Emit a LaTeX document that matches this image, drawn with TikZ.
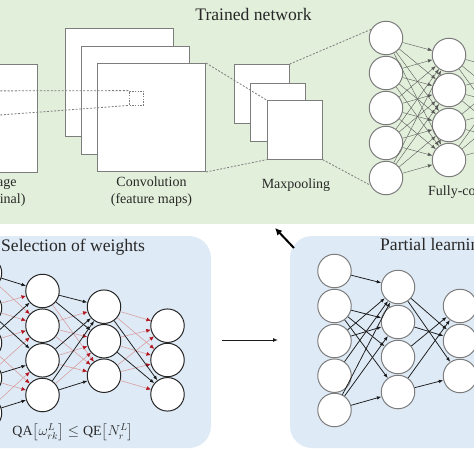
\documentclass[tikz,border=0pt]{standalone}
\usepackage{amsmath,amssymb}
\usepackage{fontspec}
\setmainfont{Liberation Serif}
\usetikzlibrary{arrows.meta}

\definecolor{trainedbg}{RGB}{226,239,218}
\definecolor{learnbg}{RGB}{222,234,246}
\definecolor{mapgray}{RGB}{125,125,125}
\definecolor{inkgray}{RGB}{40,40,40}
\definecolor{weakred}{RGB}{216,150,150}
\definecolor{tipred}{RGB}{180,20,30}

\begin{document}
\begin{tikzpicture}[x=1pt,y=-1pt,
    neuron/.style={circle,draw=mapgray,fill=white,line width=1pt,minimum size=33.5pt,inner sep=0pt},
    darkneuron/.style={neuron,draw=black!85},
    fmap/.style={draw=mapgray,fill=white,line width=1pt,inner sep=0pt,minimum width=108pt,minimum height=108pt},
    pmap/.style={fmap,minimum width=55pt,minimum height=58.5pt},
    guideline/.style={mapgray,line width=0.8pt,dash pattern=on 2pt off 1.6pt},
    fcedge/.style={black!65,line width=0.4pt,-{Latex[length=4.5pt,width=3.5pt]}},
    keptedge/.style={black!90,line width=0.75pt,-{Latex[length=4.5pt,width=3.5pt]}},
    prunededge/.style={weakred,line width=0.5pt,-{Latex[length=4.5pt,width=4pt,color=tipred]}},
    panetitle/.style={font=\fontsize{17.6}{20}\selectfont,text=inkgray,inner sep=0pt},
    boxlabel/.style={font=\fontsize{14}{17}\selectfont,text=inkgray,align=center,inner sep=0pt}]

    \useasboundingbox (0,0) rectangle (474,474);
    \clip (0,0) rectangle (474,474);

    % panels
    \fill[trainedbg] (0,0) rectangle (474,224);
    \fill[learnbg,rounded corners=22pt] (-40,236) rectangle (211,448);
    \fill[learnbg,rounded corners=22pt] (290,236) rectangle (520,448);

    \node[panetitle] (trained) at (253.5,14) {Trained network};
    \node[panetitle,anchor=west] (selection) at (1,247) {Selection of weights};
    \node[panetitle,anchor=west] (partial) at (380,246) {Partial learning};

    % image and feature maps
    \node[fmap] (img) at (-17,118) {};
    \node[boxlabel] (imglab) at (-1,191.5) {Image\\(original)};
    \node[fmap] (conv1) at (119,82) {};
    \node[fmap] (conv2) at (135,100) {};
    \node[fmap] (conv3) at (151.5,117.5) {};
    \node[boxlabel] (convlab) at (151.5,191.5) {Convolution\\(feature maps)};
    \node[draw=mapgray,dash pattern=on 1.5pt off 1.2pt,line width=0.8pt,minimum size=14pt,inner sep=0pt] (win) at (136.5,98) {};
    \coordinate (srctop) at (-50,91);
    \coordinate (srcbot) at (-50,118.7);
    \draw[guideline] (srctop) -- (win.north west);
    \draw[guideline] (srcbot) -- (win.south west);

    \node[pmap] (pool1) at (261.7,93.8) {};
    \node[pmap] (pool2) at (278,112.5) {};
    \node[pmap] (pool3) at (294.7,129.9) {};
    \node[boxlabel] (poollab) at (296,185) {Maxpooling};
    \draw[guideline] (conv3.north east) -- (pool3.north west);
    \draw[guideline] (conv3.south east) -- (pool3.south west);

    % fully-connected part
    \node[neuron] (in1) at (386,38) {};
    \node[neuron] (in2) at (386,73) {};
    \node[neuron] (in3) at (386,108) {};
    \node[neuron] (in4) at (386,143) {};
    \node[neuron] (in5) at (386,178) {};
    \node[neuron] (hid1) at (449,55) {};
    \node[neuron] (hid2) at (449,90) {};
    \node[neuron] (hid3) at (449,125) {};
    \node[neuron] (hid4) at (449,160) {};
    \node[neuron] (out1) at (512,72) {};
    \node[neuron] (out2) at (512,107) {};
    \node[neuron] (out3) at (512,142) {};
    \foreach \i in {1,...,5}
        \foreach \j in {1,...,4}
            \draw[fcedge] (in\i) -- (hid\j);
    \foreach \i in {1,...,4}
        \foreach \j in {1,...,3}
            \draw[fcedge] (hid\i) -- (out\j);
    \draw[guideline] (pool1.north east) -- (in1.150);
    \draw[guideline] (pool3.south east) -- (in5.205);
    \node[boxlabel,anchor=west] (fclab) at (428,192) {Fully-connected};

    % selection of weights
    \node[darkneuron] (sz1) at (-15,273) {};
    \node[darkneuron] (sz2) at (-15,308) {};
    \node[darkneuron] (sz3) at (-15,343) {};
    \node[darkneuron] (sz4) at (-15,378) {};
    \node[darkneuron] (sz5) at (-15,413) {};
    \node[darkneuron] (sa1) at (42.5,291) {};
    \node[darkneuron] (sa2) at (42.5,325.7) {};
    \node[darkneuron] (sa3) at (42.5,360.3) {};
    \node[darkneuron] (sa4) at (42.5,395) {};
    \node[darkneuron] (sb1) at (104,306.7) {};
    \node[darkneuron] (sb2) at (104,341.2) {};
    \node[darkneuron] (sb3) at (104,375.7) {};
    \node[darkneuron] (sc1) at (167.5,325.7) {};
    \node[darkneuron] (sc2) at (167.5,360) {};
    \node[darkneuron] (sc3) at (167.5,394.3) {};

    \draw[prunededge] (sz1) -- (sa2);
    \draw[prunededge] (sz2) -- (sa1);
    \draw[prunededge] (sz2) -- (sa2);
    \draw[prunededge] (sz3) -- (sa2);
    \draw[prunededge] (sz3) -- (sa4);
    \draw[prunededge] (sz4) -- (sa2);
    \draw[prunededge] (sz4) -- (sa4);
    \draw[prunededge] (sz5) -- (sa3);
    \draw[prunededge] (sa1) -- (sb3);
    \draw[prunededge] (sa2) -- (sb1);
    \draw[prunededge] (sa2) -- (sb2);
    \draw[prunededge] (sa2) -- (sb3);
    \draw[prunededge] (sa3) -- (sb2);
    \draw[prunededge] (sa3) -- (sb3);
    \draw[prunededge] (sa4) -- (sb2);
    \draw[prunededge] (sb1) -- (sc1);
    \draw[prunededge] (sb1) -- (sc2);
    \draw[prunededge] (sb2) -- (sc1);
    \draw[prunededge] (sb2) -- (sc2);
    \draw[prunededge] (sb3) -- (sc1);
    \draw[prunededge] (sb3) -- (sc2);
    \draw[prunededge] (sb3) -- (sc3);

    \draw[keptedge] (sz1) -- (sa1);
    \draw[keptedge] (sz3) -- (sa1);
    \draw[keptedge] (sz2) -- (sa3);
    \draw[keptedge] (sz4) -- (sa3);
    \draw[keptedge] (sz5) -- (sa4);
    \draw[keptedge] (sa1) -- (sb1);
    \draw[keptedge] (sa1) -- (sb2);
    \draw[keptedge] (sa3) -- (sb1);
    \draw[keptedge] (sa4) -- (sb1);
    \draw[keptedge] (sa4) -- (sb3);
    \draw[keptedge] (sb1) -- (sc3);
    \draw[keptedge] (sb2) -- (sc3);

    \node[boxlabel] (crit) at (73,432) {$\mathrm{QA}\!\left[\omega_{rk}^{L}\right] \le \mathrm{QE}\!\left[N_r^{L}\right]$};

    % partial learning
    \node[neuron] (pa1) at (334.5,271) {};
    \node[neuron] (pa2) at (334.5,306) {};
    \node[neuron] (pa3) at (334.5,341) {};
    \node[neuron] (pa4) at (334.5,375.7) {};
    \node[neuron] (pa5) at (334.5,410) {};
    \node[neuron] (pb1) at (398,287) {};
    \node[neuron] (pb2) at (398,322) {};
    \node[neuron] (pb3) at (398,357) {};
    \node[neuron] (pb4) at (398,392) {};
    \node[neuron] (pc1) at (460,306) {};
    \node[neuron] (pc2) at (460,341) {};
    \node[neuron] (pc3) at (460,376) {};

    \draw[keptedge] (pa1) -- (pb1);
    \draw[keptedge] (pa2) -- (pb2);
    \draw[keptedge] (pa2) -- (pb3);
    \draw[keptedge] (pa2) -- (pb4);
    \draw[keptedge] (pa3) -- (pb2);
    \draw[keptedge] (pa3) -- (pb1);
    \draw[keptedge] (pa4) -- (pb1);
    \draw[keptedge] (pa5) -- (pb1);
    \draw[keptedge] (pa5) -- (pb2);
    \draw[keptedge] (pa5) -- (pb4);
    \draw[keptedge] (pb1) -- (pc2);
    \draw[keptedge] (pb1) -- (pc3);
    \draw[keptedge] (pb2) -- (pc2);
    \draw[keptedge] (pb3) -- (pc1);
    \draw[keptedge] (pb4) -- (pc1);
    \draw[keptedge] (pb4) -- (pc3);

    % arrows between panels
    \coordinate (selout) at (222,340);
    \coordinate (plin) at (278,340);
    \draw[black!90,line width=0.9pt,-{Latex[length=5pt,width=4pt]}] (selout) -- (plin);
    \coordinate (plback) at (294,248);
    \coordinate (tnin) at (275,228);
    \draw[black,line width=2pt,-{Latex[length=7pt,width=7pt]}] (plback) -- (tnin);

\end{tikzpicture}
\end{document}
